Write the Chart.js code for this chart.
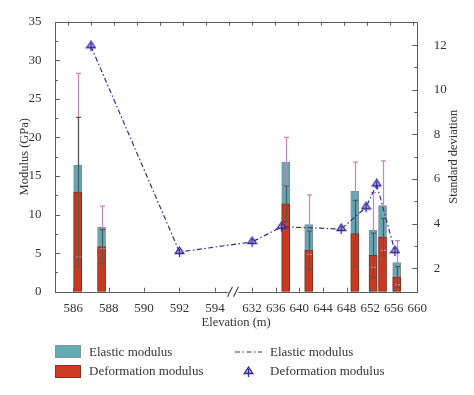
<!DOCTYPE html>
<html>
<head>
<meta charset="utf-8">
<script src="https://cdn.jsdelivr.net/npm/chart.js@4.4.1/dist/chart.umd.min.js"></script>
<style>
  body { margin: 0; background: #fff; }
  #wrap { position: relative; width: 474px; height: 395px; }
  .leg { position: absolute; font: 13px "Liberation Serif", serif; color: #333; line-height: 14px; white-space: nowrap; }
  .sw { position: absolute; width: 26px; height: 13px; box-sizing: border-box; }
  svg { position: absolute; }
</style>
</head>
<body>
<div id="wrap">
  <canvas id="grafico" width="474" height="395"></canvas>

  <div class="sw" style="left:55px;top:345px;background:rgb(98,172,180);border:1px solid rgb(130,150,160)"></div>
  <div class="leg" style="left:89px;top:344.5px">Elastic modulus</div>
  <div class="sw" style="left:55px;top:364.5px;background:rgb(204,60,34);border:1px solid rgb(140,50,35)"></div>
  <div class="leg" style="left:89px;top:364px">Deformation modulus</div>

  <svg style="left:234px;top:347px" width="30" height="10">
    <line x1="1" y1="5" x2="28" y2="5" stroke="rgb(50,45,140)" stroke-width="1.2" stroke-dasharray="5 2.5 1.5 2.5"/>
  </svg>
  <div class="leg" style="left:270px;top:344.5px">Elastic modulus</div>
  <svg style="left:243px;top:366px" width="11" height="12">
    <path d="M5.5 1 L1.2 7.5 L9.8 7.5 Z" fill="rgba(150,140,225,0.6)" stroke="rgb(50,40,150)" stroke-width="1.3"/>
    <line x1="5.5" y1="3" x2="5.5" y2="11" stroke="rgb(50,40,150)" stroke-width="1.3"/>
  </svg>
  <div class="leg" style="left:270px;top:364px">Deformation modulus</div>
</div>

<script>
// Datos
const barElev = [586.25, 587.6, 637.7, 641.6, 649.4, 652.5, 654.1, 656.5];
const elasticMod = [16.4, 8.35, 16.8, 8.7, 13.0, 8.0, 11.15, 3.76];
const elasticErr = [11.9, 2.75, 3.2, 3.85, 3.8, 4.85, 5.8, 2.85];
const deformMod = [12.9, 5.85, 11.4, 5.4, 7.55, 4.7, 7.05, 1.9];
const deformErr = [9.7, 2.2, 2.3, 2.45, 4.3, 2.9, 2.45, 1.35];

const sdElev = [587, 592, 632, 637, 647.1, 651.3, 653.1, 656.2];
const sdValues = [11.95, 2.73, 3.18, 3.86, 3.76, 4.73, 5.76, 2.77];

const xTicks = [586, 588, 590, 592, 594, 632, 636, 640, 644, 648, 652, 656, 660];
const leftTicks = [0, 5, 10, 15, 20, 25, 30, 35];
const rightTicks = [2, 4, 6, 8, 10, 12];

// Eje con corte: de 594 salta a 632 (segundo tramo comprimido x3)
function toAxis(e) {
    return e < 610 ? e : 596.1 + (e - 632) / 3;
}

Chart.defaults.font.family = '"Liberation Serif", serif';
Chart.defaults.font.size = 13;
Chart.defaults.color = '#333';

// Marcador triangular
const marker = document.createElement('canvas');
marker.width = 11;
marker.height = 12;
const mctx = marker.getContext('2d');
mctx.strokeStyle = 'rgb(50,40,150)';
mctx.fillStyle = 'rgba(150,140,225,0.6)';
mctx.lineWidth = 1.3;
mctx.beginPath();
mctx.moveTo(5.5, 1); mctx.lineTo(1.2, 7.5); mctx.lineTo(9.8, 7.5); mctx.closePath();
mctx.fill(); mctx.stroke();
mctx.beginPath();
mctx.moveTo(5.5, 3); mctx.lineTo(5.5, 11);
mctx.stroke();

const sdPoints = sdElev.map((e, i) => ({ x: toAxis(e), y: sdValues[i] }));

// Barras de error + marco y marcas de los ejes
const extras = {
    id: 'extras',
    afterDatasetDraw(chart, args) {
        if (args.index !== 1) return;
        const ctx = chart.ctx;
        const x = chart.scales.x, y = chart.scales.y;
        const drawErr = (vals, errs, color) => {
            ctx.strokeStyle = color;
            ctx.lineWidth = 1.2;
            barElev.forEach((e, i) => {
                const px = Math.round(x.getPixelForValue(toAxis(e))) + 0.5;
                const top = y.getPixelForValue(vals[i] + errs[i]);
                const bot = y.getPixelForValue(vals[i] - errs[i]);
                ctx.beginPath();
                ctx.moveTo(px, top); ctx.lineTo(px, bot);
                ctx.moveTo(px - 2.5, top); ctx.lineTo(px + 2.5, top);
                ctx.moveTo(px - 2.5, bot); ctx.lineTo(px + 2.5, bot);
                ctx.stroke();
            });
        };
        ctx.save();
        drawErr(elasticMod, elasticErr, 'rgb(205,130,190)');
        drawErr(deformMod, deformErr, 'rgb(85,85,85)');
        ctx.restore();
    },
    afterDraw(chart) {
        const ctx = chart.ctx;
        const a = chart.chartArea;
        const x = chart.scales.x, y = chart.scales.y, y2 = chart.scales.y2, xt = chart.scales.xTop;
        ctx.save();
        ctx.strokeStyle = 'rgb(90,90,90)';
        ctx.lineWidth = 1;
        ctx.strokeRect(Math.round(a.left) + 0.5, Math.round(a.top) + 0.5,
            Math.round(a.right - a.left), Math.round(a.bottom - a.top));
        ctx.beginPath();
        xTicks.forEach(e => {
            const px = Math.round(x.getPixelForValue(toAxis(e))) + 0.5;
            ctx.moveTo(px, a.bottom); ctx.lineTo(px, a.bottom - 4);
        });
        for (let k = 0; k <= 15; k++) {
            const px = Math.round(xt.getPixelForValue(k)) + 0.5;
            ctx.moveTo(px, a.top); ctx.lineTo(px, a.top + 4);
        }
        leftTicks.forEach(v => {
            const py = Math.round(y.getPixelForValue(v)) + 0.5;
            ctx.moveTo(a.left, py); ctx.lineTo(a.left + 5, py);
            if (v < 35) {
                const pm = Math.round(y.getPixelForValue(v + 2.5)) + 0.5;
                ctx.moveTo(a.left, pm); ctx.lineTo(a.left + 3, pm);
            }
        });
        rightTicks.forEach(v => {
            const py = Math.round(y2.getPixelForValue(v)) + 0.5;
            ctx.moveTo(a.right, py); ctx.lineTo(a.right - 5, py);
            if (v < 12) {
                const pm = Math.round(y2.getPixelForValue(v + 1)) + 0.5;
                ctx.moveTo(a.right, pm); ctx.lineTo(a.right - 3, pm);
            }
        });
        ctx.stroke();

        // marca de corte "//"
        const bx = (x.getPixelForValue(toAxis(594)) + x.getPixelForValue(toAxis(632))) / 2;
        ctx.fillStyle = '#fff';
        ctx.fillRect(bx - 5, a.bottom - 1, 10, 3);
        ctx.strokeStyle = 'rgb(60,60,60)';
        ctx.lineWidth = 1.1;
        ctx.beginPath();
        ctx.moveTo(bx - 6, a.bottom + 5); ctx.lineTo(bx - 1, a.bottom - 5);
        ctx.moveTo(bx + 0, a.bottom + 5); ctx.lineTo(bx + 5, a.bottom - 5);
        ctx.stroke();

        // título del eje derecho
        ctx.fillStyle = '#333';
        ctx.font = '12.5px "Liberation Serif", serif';
        ctx.textAlign = 'center';
        ctx.textBaseline = 'middle';
        ctx.translate(453.5, (a.top + a.bottom) / 2);
        ctx.rotate(-Math.PI / 2);
        ctx.fillText('Standard deviation', 0, 0);
        ctx.restore();
    }
};

const ctx = document.getElementById('grafico').getContext('2d');
new Chart(ctx, {
    type: 'bar',
    data: {
        datasets: [{
            label: 'Elastic modulus',
            data: barElev.map((e, i) => ({ x: toAxis(e), y: elasticMod[i] })),
            backgroundColor: 'rgb(98,168,180)',
            borderColor: 'rgb(125,140,155)',
            borderWidth: 1,
            barThickness: 8,
            grouped: false,
            order: 3
        }, {
            label: 'Deformation modulus',
            data: barElev.map((e, i) => ({ x: toAxis(e), y: deformMod[i] })),
            backgroundColor: 'rgb(200,58,32)',
            borderColor: 'rgb(135,45,30)',
            borderWidth: 1,
            barThickness: 8,
            grouped: false,
            order: 2
        }, {
            type: 'line',
            label: 'Elastic modulus',
            data: sdPoints,
            yAxisID: 'y2',
            borderColor: 'rgb(50,45,140)',
            borderWidth: 1.2,
            borderDash: [5, 2.5, 1.5, 2.5],
            pointRadius: 0,
            fill: false,
            order: 1
        }, {
            type: 'line',
            label: 'Deformation modulus',
            data: sdPoints,
            yAxisID: 'y2',
            showLine: false,
            pointStyle: marker,
            pointRadius: 5,
            order: 0
        }]
    },
    options: {
        responsive: false,
        animation: false,
        devicePixelRatio: 1,
        layout: { padding: { left: 0, right: 0, top: 21.7, bottom: 65 } },
        plugins: {
            legend: { display: false },
            tooltip: { enabled: false }
        },
        scales: {
            x: {
                type: 'linear',
                offset: false,
                min: 584.97,
                max: 605.43,
                grid: { display: false, offset: false },
                border: { display: false },
                afterBuildTicks: axis => { axis.ticks = xTicks.map(e => ({ value: toAxis(e) })); },
                ticks: {
                    autoSkip: false,
                    maxRotation: 0,
                    padding: 1,
                    callback: (v, i) => xTicks[i]
                },
                title: { display: true, text: 'Elevation (m)', font: { size: 12.5 }, padding: 0 },
                afterFit: axis => { axis.height = 38.3; }
            },
            xTop: {
                type: 'linear',
                position: 'top',
                display: false,
                offset: false,
                min: -0.58,
                max: 15.17
            },
            y: {
                position: 'left',
                min: 0,
                max: 35,
                grid: { display: false },
                border: { display: false },
                afterBuildTicks: axis => { axis.ticks = leftTicks.map(v => ({ value: v })); },
                ticks: { padding: 5.5 },
                title: { display: true, text: 'Modulus (GPa)', font: { size: 12.5 }, padding: { top: 17.2, bottom: 0 } },
                afterFit: axis => { axis.width = 55; }
            },
            y2: {
                position: 'right',
                min: 0.95,
                max: 13.05,
                grid: { display: false },
                border: { display: false },
                afterBuildTicks: axis => { axis.ticks = rightTicks.map(v => ({ value: v })); },
                ticks: { padding: 8.5 },
                afterFit: axis => { axis.width = 56.7; }
            }
        }
    },
    plugins: [extras]
});
</script>
</body>
</html>
